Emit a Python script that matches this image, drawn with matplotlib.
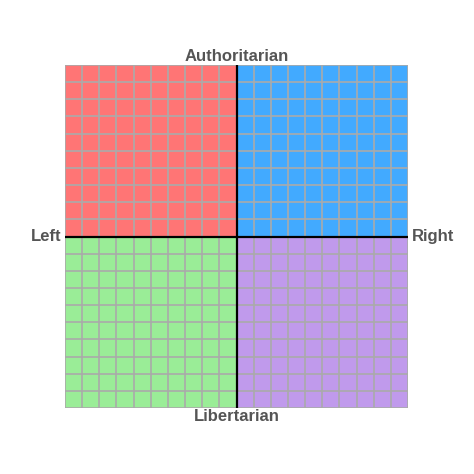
import matplotlib
matplotlib.use("Agg")
import matplotlib.pyplot as plt
from matplotlib.patches import Rectangle

# quadrants: (x0, y0, colour) in -10..10 coordinates
quad_x = [-10, 0, -10, 0]
quad_y = [0, 0, -10, -10]
quad_colors = ["#FF7575", "#42AAFF", "#9AED97", "#C09AEC"]
labels = ["Authoritarian", "Libertarian", "Left", "Right"]

fig = plt.figure(figsize=(4.74, 4.74), dpi=100)
ax = fig.add_axes([65 / 474, 66 / 474, 343 / 474, 343 / 474])
ax.set_xlim(-10, 10)
ax.set_ylim(-10, 10)

for x0, y0, c in zip(quad_x, quad_y, quad_colors):
    ax.add_patch(Rectangle((x0, y0), 10, 10, facecolor=c, edgecolor="none", zorder=0))

for v in range(-10, 11):
    ax.axvline(v, color="#AAAAAA", lw=1.2, zorder=1)
    ax.axhline(v, color="#AAAAAA", lw=1.2, zorder=1)
ax.axvline(0, color="black", lw=1.6, zorder=2)
ax.axhline(0, color="black", lw=1.6, zorder=2)

ax.set_xticks([])
ax.set_yticks([])
for s in ax.spines.values():
    s.set_visible(False)

style = dict(fontsize=12, fontweight="bold", color="#555555", family="Liberation Sans")
ax.text(0, 10.05, labels[0], ha="center", va="bottom", **style)
ax.text(0, -10.05, labels[1], ha="center", va="top", **style)
ax.text(-10.2, 0, labels[2], ha="right", va="center", **style)
ax.text(10.2, 0, labels[3], ha="left", va="center", **style)

fig.savefig("out.png", dpi=100)
